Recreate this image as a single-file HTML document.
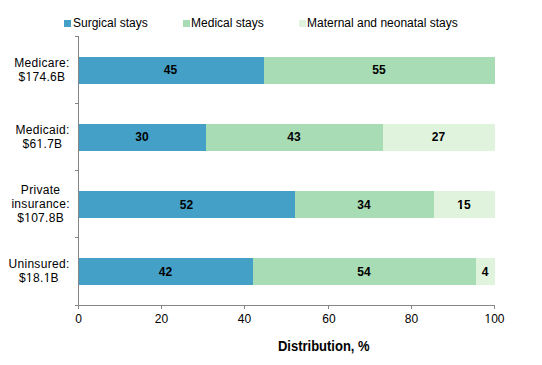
<!DOCTYPE html>
<html><head><meta charset="utf-8">
<style>
html,body{margin:0;padding:0;background:#fff;width:542px;height:365px;overflow:hidden}
svg{display:block}
text{font-family:"Liberation Sans",sans-serif;fill:#000}
.r{font-size:12px}
.b{font-size:12px;font-weight:bold}
</style></head><body>
<svg width="542" height="365" viewBox="0 0 542 365">
<rect x="0" y="0" width="542" height="365" fill="#fff"/>
<g shape-rendering="crispEdges">
<!-- legend -->
<rect x="64" y="20" width="7" height="7" fill="#45A0C8"/>
<rect x="183" y="20" width="7" height="7" fill="#A8DCB4"/>
<rect x="299" y="20" width="7" height="7" fill="#E0F3DC"/>
<!-- bars -->
<rect x="79" y="57" width="185" height="27" fill="#45A0C8"/>
<rect x="264" y="57" width="231" height="27" fill="#A8DCB4"/>
<rect x="79" y="124" width="127" height="27" fill="#45A0C8"/>
<rect x="206" y="124" width="177" height="27" fill="#A8DCB4"/>
<rect x="383" y="124" width="112" height="27" fill="#E0F3DC"/>
<rect x="79" y="191" width="216" height="27" fill="#45A0C8"/>
<rect x="295" y="191" width="139" height="27" fill="#A8DCB4"/>
<rect x="434" y="191" width="61" height="27" fill="#E0F3DC"/>
<rect x="79" y="258" width="174" height="27" fill="#45A0C8"/>
<rect x="253" y="258" width="223" height="27" fill="#A8DCB4"/>
<rect x="476" y="258" width="19" height="27" fill="#E0F3DC"/>
<!-- axes -->
<g fill="#868686">
<rect x="78" y="36" width="1" height="273"/>
<rect x="75" y="36" width="3" height="1"/>
<rect x="75" y="103" width="3" height="1"/>
<rect x="75" y="170" width="3" height="1"/>
<rect x="75" y="237" width="3" height="1"/>
<rect x="75" y="305" width="420" height="1"/>
<rect x="161" y="305" width="1" height="4"/>
<rect x="244" y="305" width="1" height="4"/>
<rect x="328" y="305" width="1" height="4"/>
<rect x="411" y="305" width="1" height="4"/>
<rect x="494" y="305" width="1" height="4"/>
</g>
</g>
<!-- legend text -->
<text class="r" x="73" y="26.5">Surgical stays</text>
<text class="r" x="191.1" y="26.5">Medical stays</text>
<text class="r" x="307" y="26.5">Maternal and neonatal stays</text>
<!-- category labels -->
<g class="r" text-anchor="middle" style="letter-spacing:0.3px">
<text x="42" y="67">Medicare:</text>
<text x="42" y="81">$174.6B</text>
<text x="42.5" y="134">Medicaid:</text>
<text x="42.5" y="148">$61.7B</text>
<text x="40.6" y="194">Private</text>
<text x="40.6" y="208">insurance:</text>
<text x="40.6" y="222">$107.8B</text>
<text x="39" y="268">Uninsured:</text>
<text x="39" y="282">$18.1B</text>
</g>
<!-- data labels -->
<g class="b" text-anchor="middle">
<text x="170.5" y="74">45</text>
<text x="379.0" y="74">55</text>
<text x="142.0" y="141">30</text>
<text x="294.0" y="141">43</text>
<text x="438.5" y="141">27</text>
<text x="186.5" y="209">52</text>
<text x="364.0" y="209">34</text>
<text x="464.0" y="209">15</text>
<text x="165.5" y="276">42</text>
<text x="364.0" y="276">54</text>
<text x="485.0" y="276">4</text>
</g>
<!-- x tick labels -->
<g class="r" text-anchor="middle">
<text x="78.5" y="323">0</text>
<text x="161.5" y="323">20</text>
<text x="244.5" y="323">40</text>
<text x="329" y="323">60</text>
<text x="411.5" y="323">80</text>
<text x="494.5" y="323">100</text>
</g>
<text x="278" y="351.5" transform="translate(0,351.5) scale(1,1.085) translate(0,-351.5)" style="font-size:13px;font-weight:bold">Distribution, %</text>
<!-- remove feet of "1" glyphs to mimic Arial -->
<g shape-rendering="crispEdges">
<rect x="25" y="80" width="8" height="1" fill="#fff"/>
<rect x="36" y="147" width="8" height="1" fill="#fff"/>
<rect x="25" y="221" width="6" height="1" fill="#fff"/>
<rect x="26" y="281" width="7" height="1" fill="#fff"/>
<rect x="43" y="281" width="8" height="1" fill="#fff"/>
<rect x="485" y="322" width="6" height="1" fill="#fff"/>
<rect x="457" y="207" width="7" height="2" fill="#E0F3DC"/>
</g>
<g fill="#000" shape-rendering="geometricPrecision">
<rect x="28.58" y="80" width="1.05" height="1"/>
<rect x="39.58" y="147" width="1.05" height="1"/>
<rect x="27.36" y="221" width="1.06" height="1"/>
<rect x="28.95" y="281" width="1.07" height="1"/>
<rect x="46.8" y="281" width="1.1" height="1"/>
<rect x="487.58" y="322" width="1.05" height="1"/>
<rect x="459.95" y="207" width="1.95" height="2"/>
</g>
</svg>
</body></html>
